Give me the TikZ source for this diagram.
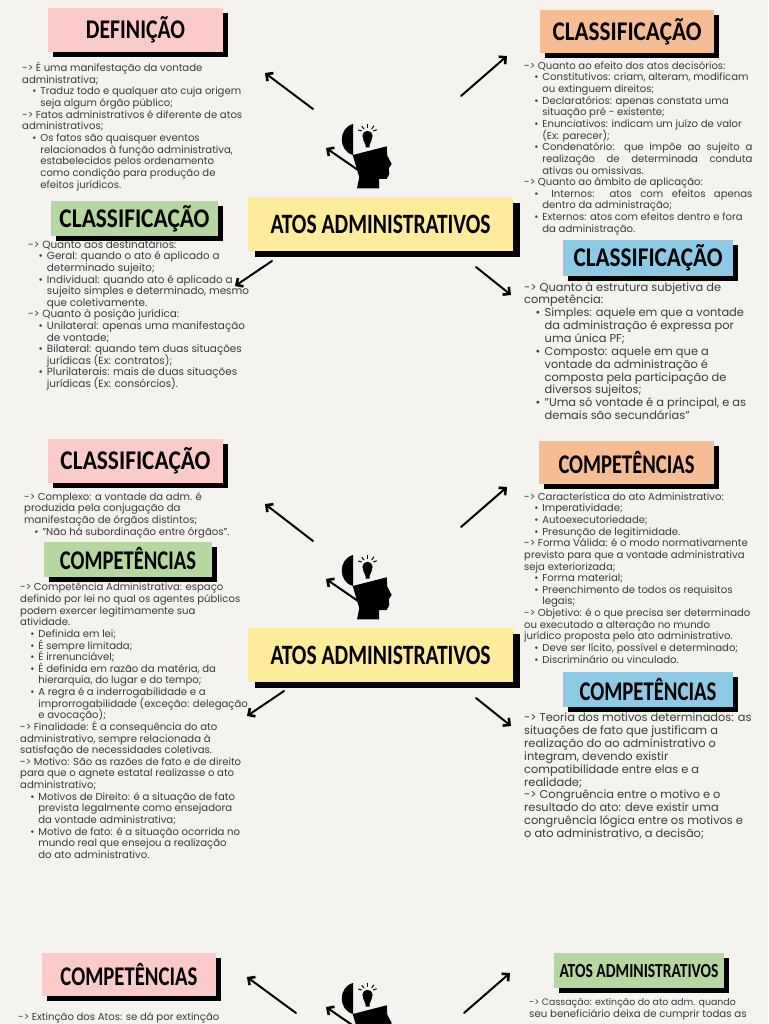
\documentclass[tikz,border=0pt]{standalone}
\usepackage{fontspec}
\usepackage{graphicx}
\setmainfont{Poppins}
\newfontfamily\titlefont[FakeStretch=0.72]{Carlito}
\usetikzlibrary{arrows.meta,shadows,positioning}
\definecolor{paper}{HTML}{F5F3EF}
\definecolor{inktext}{HTML}{3A3A3A}
\definecolor{pinkbox}{HTML}{FBCBC9}
\definecolor{greenbox}{HTML}{B6D7A0}
\definecolor{orangebox}{HTML}{F6BC93}
\definecolor{bluebox}{HTML}{8ECAE6}
\definecolor{yellowbox}{HTML}{FDEC9B}
\newcommand{\itemb}{\hspace*{1em}\makebox[.8em][l]{•}}
\newcommand{\itemc}{\hspace*{1.8em}}
\newcommand{\titletext}[3][0pt]{\raisebox{#1}{\resizebox{#2pt}{\height}{#3}}}
\newcommand{\bodyfont}[2]{\fontsize{#1}{#2}\selectfont\lineskiplimit=-6pt\relax}
\tikzset{
	titlebox/.style={inner sep=0pt, text=black, font=\titlefont\bfseries\fontsize{27}{27}\selectfont,
		general shadow={fill=black, shadow xshift=5pt, shadow yshift=-5pt}},
	mainbox/.style={inner sep=0pt, fill=yellowbox, text=black, minimum width=265pt, minimum height=54pt,
		font=\titlefont\bfseries\fontsize{28}{28}\selectfont,
		general shadow={fill=black, shadow xshift=7pt, shadow yshift=-6pt}},
	textblock/.style={anchor=north west, align=left, inner sep=0pt, text=inktext,
		font=\bodyfont{10.1}{11.65}},
	bigblock/.style={textblock, font=\bodyfont{11.4}{12.85}},
	arrowline/.style={line width=2pt, line cap=round, -{Straight Barb[length=5pt,width=10pt,line width=2.6pt]}}
}
\newcommand{\headicon}[1]{
	\begin{scope}[shift={(0,#1)}]
		\fill (353,124) .. controls (338,128) and (338,151) .. (353,155) -- cycle;
		\fill (352.7,155) -- (386.7,146.3) -- (387.3,155.7) -- (391.7,164) -- (388.7,168.3) -- (389.3,174) -- (386.7,179)
			-- (379,179) -- (379,188.3) -- (357,188.3) -- (359.3,177.3) -- cycle;
		\fill (367.5,136) circle (5.2);
		\fill (363,139) -- (372,139) -- (369.5,145) -- (369.5,147.5) -- (365.5,147.5) -- (365.5,145) -- cycle;
		\draw [line width=1pt] (361.7,126.3) -- (364,129);
		\draw [line width=1pt] (367.3,124.3) -- (367.3,127.7);
		\draw [line width=1pt] (374,125.7) -- (371.7,129);
		\draw [line width=1pt] (358.3,130) -- (361.7,131);
		\draw [line width=1pt] (376.7,129.7) -- (373.3,131);
		\draw [arrowline] (358,170) -- (326,148);
	\end{scope}
}
\begin{document}
\begin{tikzpicture}[x=1pt, y=-1pt]
	\useasboundingbox (0,0) rectangle (768,1024);
	\clip (0,0) rectangle (768,1024);
	\fill [paper] (0,0) rectangle (768,1024);

	\node [titlebox, fill=pinkbox, minimum width=175pt, minimum height=44pt] (definicao) at (135.5,30) {\titletext{99}{DEFINIÇÃO}};
	\node [titlebox, fill=greenbox, minimum width=167pt, minimum height=35pt] (classLeft) at (134.5,218.5) {\titletext[2pt]{150}{CLASSIFICAÇÃO}};
	\node [titlebox, fill=orangebox, minimum width=174pt, minimum height=43pt] (classRight) at (627,31.5) {\titletext{149}{CLASSIFICAÇÃO}};
	\node [titlebox, fill=bluebox, minimum width=170pt, minimum height=36pt] (classBlue) at (648,258) {\titletext{149}{CLASSIFICAÇÃO}};
	\node [mainbox] (atosOne) at (380.5,224) {\titletext{220}{ATOS ADMINISTRATIVOS}};

	\node [titlebox, fill=pinkbox, minimum width=175pt, minimum height=44pt] (classPink) at (135.5,461) {\titletext{150}{CLASSIFICAÇÃO}};
	\node [titlebox, fill=greenbox, minimum width=168pt, minimum height=35pt] (compLeft) at (128,559.5) {\titletext[2pt]{136}{COMPETÊNCIAS}};
	\node [titlebox, fill=orangebox, minimum width=175pt, minimum height=43pt] (compRight) at (626.5,462.5) {\titletext{136}{COMPETÊNCIAS}};
	\node [titlebox, fill=bluebox, minimum width=170pt, minimum height=35pt] (compBlue) at (648,689.5) {\titletext{137}{COMPETÊNCIAS}};
	\node [mainbox] (atosTwo) at (380.5,655) {\titletext{220}{ATOS ADMINISTRATIVOS}};

	\node [titlebox, fill=pinkbox, minimum width=174pt, minimum height=43pt] (compPink) at (129,974.5) {\titletext{137}{COMPETÊNCIAS}};
	\node [titlebox, fill=greenbox, minimum width=170pt, minimum height=35pt, font=\titlefont\bfseries\fontsize{20}{20}\selectfont] (atosGreen) at (639,970.5) {\titletext{159}{ATOS ADMINISTRATIVOS}};

	\node [textblock] (textDefinicao) at (22,62) {-> É uma manifestação da vontade\\
		administrativa;\\
		\itemb Traduz todo e qualquer ato cuja origem\\
		\itemc seja algum órgão público;\\
		-> Fatos administrativos é diferente de atos\\
		administrativos;\\
		\itemb Os fatos são quaisquer eventos\\
		\itemc relacionados à função administrativa,\\
		\itemc estabelecidos pelos ordenamento\\
		\itemc como condição para produção de\\
		\itemc efeitos jurídicos.};
	\node [textblock, font=\bodyfont{10.4}{11.6}] (textClassLeft) at (28,240) {-> Quanto aos destinatários:\\
		\itemb Geral: quando o ato é aplicado a\\
		\itemc determinado sujeito;\\
		\itemb Individual: quando ato é aplicado a\\
		\itemc sujeito simples e determinado, mesmo\\
		\itemc que coletivamente.\\
		-> Quanto à posição jurídica:\\
		\itemb Unilateral: apenas uma manifestação\\
		\itemc de vontade;\\
		\itemb Bilateral: quando tem duas situações\\
		\itemc jurídicas (Ex: contratos);\\
		\itemb Plurilaterais: mais de duas situações\\
		\itemc jurídicas (Ex: consórcios).};
	\node [textblock] (textClassRight) at (524,61) {-> Quanto ao efeito dos atos decisórios:\\
		\itemb Constitutivos: criam, alteram, modificam\\
		\itemc ou extinguem direitos;\\
		\itemb Declaratórios: apenas constata uma\\
		\itemc situação pré - existente;\\
		\itemb Enunciativos: indicam um juízo de valor\\
		\itemc (Ex: parecer);\\
		\itemb \makebox[210pt][s]{Condenatório: que impõe ao sujeito a}\\
		\itemc \makebox[210pt][s]{realização de determinada conduta}\\
		\itemc ativas ou omissivas.\\
		-> Quanto ao âmbito de aplicação:\\
		\itemb\hspace*{.9em}\makebox[201pt][s]{Internos: atos com efeitos apenas}\\
		\itemc dentro da administração;\\
		\itemb Externos: atos com efeitos dentro e fora\\
		\itemc da administração.};
	\node [bigblock] (textClassBlue) at (524,282) {-> Quanto à estrutura subjetiva de\\
		competência:\\
		\itemb Simples: aquele em que a vontade\\
		\itemc da administração é expressa por\\
		\itemc uma única PF;\\
		\itemb Composto: aquele em que a\\
		\itemc vontade da administração é\\
		\itemc composta pela participação de\\
		\itemc diversos sujeitos;\\
		\itemb "Uma só vontade é a principal, e as\\
		\itemc demais são secundárias"};
	\node [textblock] (textClassPink) at (24,492) {-> Complexo: a vontade da adm. é\\
		produzida pela conjugação da\\
		manifestação de órgãos distintos;\\
		\itemb "Não há subordinação entre órgãos".};
	\node [textblock, font=\bodyfont{10.1}{11.63}] (textCompLeft) at (20,583) {-> Competência Administrativa: espaço\\
		definido por lei no qual os agentes públicos\\
		podem exercer legitimamente sua\\
		atividade.\\
		\itemb Definida em lei;\\
		\itemb É sempre limitada;\\
		\itemb É irrenunciável;\\
		\itemb É definida em razão da matéria, da\\
		\itemc hierarquia, do lugar e do tempo;\\
		\itemb A regra é a inderrogabilidade e a\\
		\itemc improrrogabilidade (exceção: delegação\\
		\itemc e avocação);\\
		-> Finalidade: É a consequência do ato\\
		administrativo, sempre relacionada à\\
		satisfação de necessidades coletivas.\\
		-> Motivo: São as razões de fato e de direito\\
		para que o agnete estatal realizasse o ato\\
		administrativo;\\
		\itemb Motivos de Direito: é a situação de fato\\
		\itemc prevista legalmente como ensejadora\\
		\itemc da vontade administrativa;\\
		\itemb Motivo de fato: é a situação ocorrida no\\
		\itemc mundo real que ensejou a realização\\
		\itemc do ato administrativo.};
	\node [textblock] (textCompRight) at (524,492) {-> Característica do ato Administrativo:\\
		\itemb Imperatividade;\\
		\itemb Autoexecutoriedade;\\
		\itemb Presunção de legitimidade.\\
		-> Forma Válida: é o modo normativamente\\
		previsto para que a vontade administrativa\\
		seja exteriorizada;\\
		\itemb Forma material;\\
		\itemb Preenchimento de todos os requisitos\\
		\itemc legais;\\
		-> Objetivo: é o que precisa ser determinado\\
		ou executado a alteração no mundo\\
		jurídico proposta pelo ato administrativo.\\
		\itemb Deve ser lícito, possível e determinado;\\
		\itemb Discriminário ou vinculado.};
	\node [bigblock] (textCompBlue) at (524,713) {-> Teoria dos motivos determinados: as\\
		situações de fato que justificam a\\
		realização do ao administrativo o\\
		integram, devendo existir\\
		compatibilidade entre elas e a\\
		realidade;\\
		-> Congruência entre o motivo e o\\
		resultado do ato: deve existir uma\\
		congruência lógica entre os motivos e\\
		o ato administrativo, a decisão;};
	\node [textblock] (textCompPink) at (18,1012) {-> Extinção dos Atos: se dá por extinção};
	\node [textblock, font=\bodyfont{10.2}{12.5}] (textAtosGreen) at (529,998) {{\fontsize{9.4}{12.5}\selectfont -> Cassação: extinção do ato adm. quando}\\
		seu beneficiário deixa de cumprir todas as};

	\headicon{0}
	\headicon{431}
	\headicon{859}

	\coordinate (tailA) at (313,109);
	\coordinate (headA) at (265,73);
	\coordinate (tailB) at (461,96);
	\coordinate (headB) at (507,56);
	\coordinate (tailC) at (272,261);
	\coordinate (headC) at (235,286);
	\coordinate (tailD) at (476,267);
	\coordinate (headD) at (511,295);
	\coordinate (tailE) at (313,541);
	\coordinate (headE) at (265,504);
	\coordinate (tailF) at (461,527);
	\coordinate (headF) at (507,487);
	\coordinate (tailG) at (284,691);
	\coordinate (headG) at (247,716);
	\coordinate (tailH) at (476,698);
	\coordinate (headH) at (511,726);
	\coordinate (tailI) at (296,1013);
	\coordinate (headI) at (247,977);
	\coordinate (tailJ) at (464,1013);
	\coordinate (headJ) at (510,973);
	\draw [arrowline] (tailA) -- (headA);
	\draw [arrowline] (tailB) -- (headB);
	\draw [arrowline] (tailC) -- (headC);
	\draw [arrowline] (tailD) -- (headD);
	\draw [arrowline] (tailE) -- (headE);
	\draw [arrowline] (tailF) -- (headF);
	\draw [arrowline] (tailG) -- (headG);
	\draw [arrowline] (tailH) -- (headH);
	\draw [arrowline] (tailI) -- (headI);
	\draw [arrowline] (tailJ) -- (headJ);
\end{tikzpicture}
\end{document}
